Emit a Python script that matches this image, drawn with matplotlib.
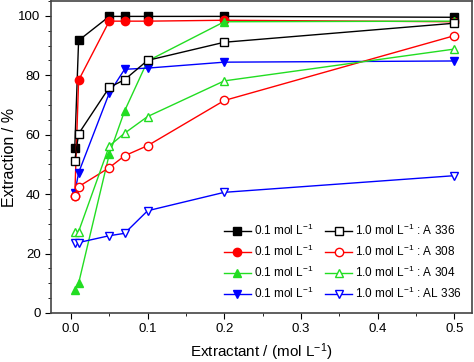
import numpy as np
import matplotlib
matplotlib.use('Agg')
import matplotlib.pyplot as plt
from matplotlib.ticker import MultipleLocator

plt.rcParams['font.family'] = ['Liberation Sans', 'DejaVu Sans']
plt.rcParams['mathtext.default'] = 'regular'

# extractant concentration (mol/L)
conc = [0.005, 0.01, 0.05, 0.07, 0.1, 0.2, 0.5]

# 0.1 mol/L acid (filled markers)
a336_01 = [55.5, 91.7, 99.8, 99.8, 99.8, 99.8, 99.5]
a308_01 = [39.4, 78.3, 98.2, 98.2, 98.2, 98.5, 98.0]
a304_01 = [7.7, 10.0, 53.4, 68.0, 84.8, 98.0, 98.2]
al336_01 = [40.3, 47.2, 74.0, 82.0, 82.4, 84.4, 84.8]

# 1.0 mol/L acid (open markers)
a336_10 = [51.3, 60.3, 75.9, 78.5, 85.0, 91.1, 97.5]
a308_10 = [39.5, 42.5, 48.9, 52.9, 56.3, 71.5, 93.3]
a304_10 = [27.4, 27.4, 56.2, 60.5, 66.1, 78.1, 88.8]
al336_10 = [23.7, 23.7, 26.0, 26.8, 34.4, 40.6, 46.2]

lbl_01 = '0.1 mol L$^{-1}$'
lbl_10 = ['1.0 mol L$^{-1}$ : A 336', '1.0 mol L$^{-1}$ : A 308',
          '1.0 mol L$^{-1}$ : A 304', '1.0 mol L$^{-1}$ : AL 336']

cols = ['black', '#ff0000', '#22dd22', '#0000ff']
mks = ['s', 'o', '^', 'v']

fig = plt.figure(figsize=(4.74, 3.62), dpi=100)
ax = fig.add_axes([0.1076, 0.1354, 0.888, 0.862])

filled = [a336_01, a308_01, a304_01, al336_01]
opened = [a336_10, a308_10, a304_10, al336_10]

handles = []
for y, c, m in zip(filled, cols, mks):
    h, = ax.plot(conc, y, color=c, marker=m, ms=6, lw=1.0, label=lbl_01)
    handles.append(h)
for y, c, m, l in zip(opened, cols, mks, lbl_10):
    h, = ax.plot(conc, y, color=c, marker=m, ms=6, lw=1.0, mfc='white', mec=c, label=l)
    handles.append(h)

ax.set_xlim(-0.026, 0.523)
ax.set_ylim(0, 105)
ax.xaxis.set_major_locator(MultipleLocator(0.1))
ax.xaxis.set_minor_locator(MultipleLocator(0.05))
ax.yaxis.set_major_locator(MultipleLocator(20))
ax.yaxis.set_minor_locator(MultipleLocator(5))
ax.tick_params(which='both', direction='out', top=False, right=False, labelsize=9.5)
ax.tick_params(which='major', length=4)
ax.tick_params(which='minor', length=2)
for s in ax.spines.values():
    s.set_color('#444444')
    s.set_linewidth(1.2)

ax.set_xlabel('Extractant / (mol L$^{-1}$)', fontsize=11)
ax.set_ylabel('Extraction / %', fontsize=11.5, labelpad=1)

ax.legend(handles=handles, ncol=2, frameon=False, fontsize=8.5,
          loc='lower right', bbox_to_anchor=(0.975, 0.168),
          bbox_transform=fig.transFigure, borderpad=0, borderaxespad=0,
          handlelength=2.3, handletextpad=0.25, columnspacing=1.0,
          labelspacing=0.5)

plt.savefig('out.png', dpi=100)
